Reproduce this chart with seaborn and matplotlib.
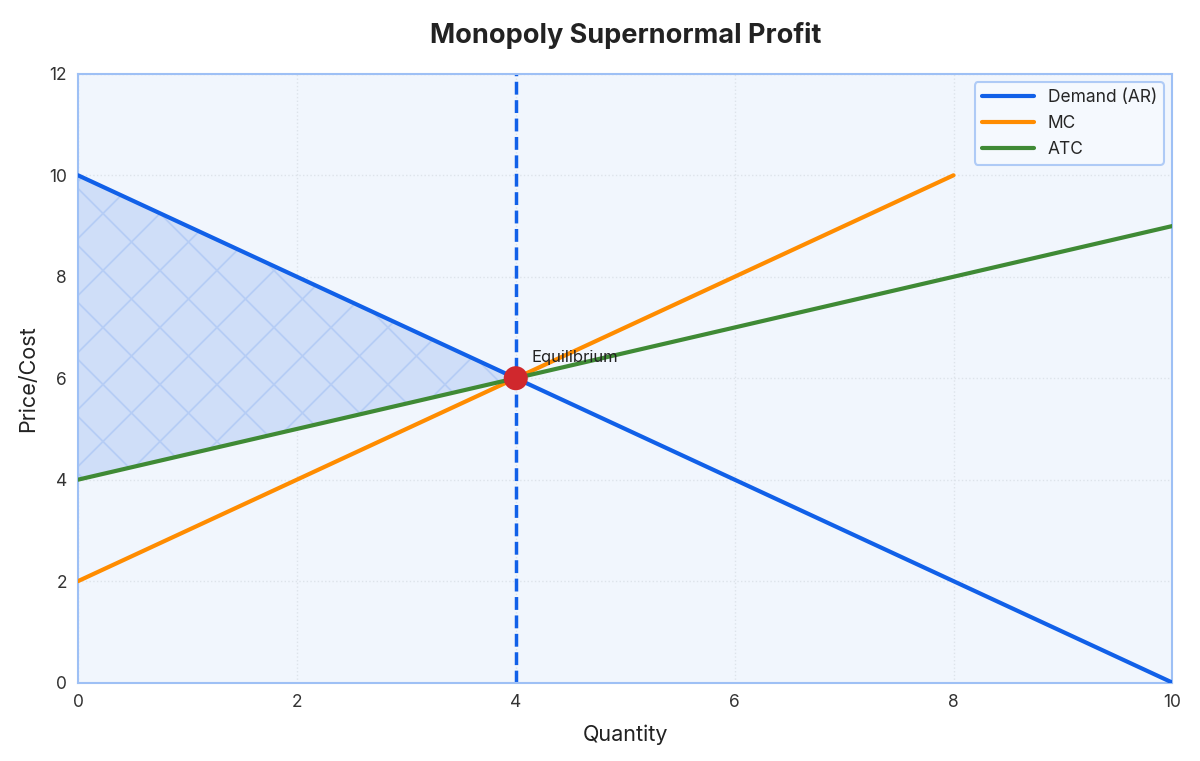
import matplotlib
matplotlib.use("Agg")
import matplotlib.pyplot as plt
import seaborn as sns
import numpy as np

# Curve data
q_demand = [0, 2, 4, 6, 8, 10]
p_demand = [10, 8, 6, 4, 2, 0]
q_mc = [0, 2, 4, 6, 8]
p_mc = [2, 4, 6, 8, 10]
q_atc = [0, 2, 4, 6, 8, 10]
p_atc = [4, 5, 6, 7, 8, 9]

# Profit area (0 to equilibrium quantity)
q_profit = [0, 1, 2, 3, 4]
p_profit_top = [10, 9, 8, 7, 6]
p_profit_bottom = [4, 4.5, 5, 5.5, 6]

eq_q = [4]
eq_p = [6]

sns.set_theme(style="white")
plt.rcParams["font.family"] = ["Inter", "DejaVu Sans"]

fig, ax = plt.subplots(figsize=(12, 7.61), dpi=100)
fig.subplots_adjust(left=0.065, right=0.977, top=0.903, bottom=0.103)
ax.set_facecolor("#f1f6fd")

ax.set_xlim(0, 10)
ax.set_ylim(0, 12)

area = ax.fill_between(q_profit, p_profit_bottom, p_profit_top, facecolor="#cfdef8",
                       edgecolor="none", linewidth=0, zorder=1)

# sparse cross-hatch, clipped to the profit area
fig.canvas.draw()
bb = ax.get_window_extent()
px_x = bb.width / 10
px_y = bb.height / 12
slope = px_x / px_y  # 45 degrees on screen
step = 57 / px_x
xs = np.array([-10.0, 20.0])
for off in np.arange(-30, 30, step):
    for sgn in (1, -1):
        ln, = ax.plot(xs, sgn * slope * (xs - off - 0.02) + 7, color="#b6cdf5",
                      linewidth=1.3, zorder=1.5)
        ln.set_clip_path(area.get_paths()[0], ax.transData)

sns.lineplot(x=q_demand, y=p_demand, ax=ax, color="#1160e8", linewidth=3, label="Demand (AR)", zorder=3)
sns.lineplot(x=q_mc, y=p_mc, ax=ax, color="#ff8c00", linewidth=3, label="MC", zorder=3)
sns.lineplot(x=q_atc, y=p_atc, ax=ax, color="#3f8a35", linewidth=3, label="ATC", zorder=3)

ax.axvline(eq_q[0], color="#1160e8", linestyle="--", linewidth=2.5, zorder=2)
sns.scatterplot(x=eq_q, y=eq_p, ax=ax, color="#d0282d", s=300, edgecolor="none", zorder=5)
ax.annotate("Equilibrium", xy=(eq_q[0], eq_p[0]), xytext=(11, 12),
            textcoords="offset points", fontsize=12, color="#222222")

ax.set_xlim(0, 10)
ax.set_ylim(0, 12)
ax.set_xticks([0, 2, 4, 6, 8, 10])
ax.set_yticks([0, 2, 4, 6, 8, 10, 12])
ax.tick_params(length=0, labelsize=12.5, labelcolor="#333333", pad=8)
ax.grid(True, linestyle=":", color="#dde3ea", linewidth=1)
for s in ax.spines.values():
    s.set_color("#9ec0f5")
    s.set_linewidth(1.5)

ax.set_xlabel("Quantity", fontsize=15.5, color="#222222", labelpad=10)
ax.set_ylabel("Price/Cost", fontsize=15.5, color="#222222", labelpad=8)
ax.set_title("Monopoly Supernormal Profit", fontsize=19.5, fontweight="bold", color="#222222", pad=22)

leg = ax.legend(loc="upper right", fontsize=12.5, frameon=True, fancybox=True,
                handlelength=3)
leg.get_frame().set_edgecolor("#9ec0f5")
leg.get_frame().set_linewidth(1.5)
leg.get_frame().set_facecolor("#f7faff")

fig.savefig("out.png", dpi=100)
